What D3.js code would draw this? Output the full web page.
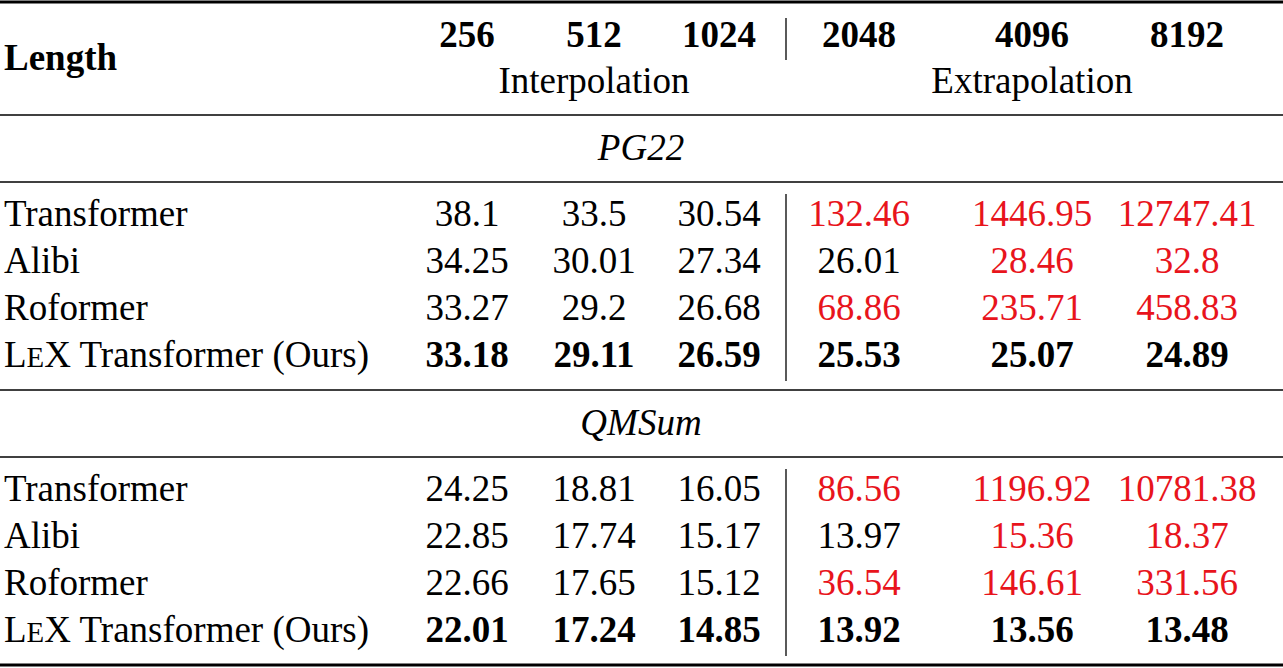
<!DOCTYPE html>
<html><head><meta charset="utf-8">
<script src="https://cdn.jsdelivr.net/npm/d3@7"></script>
<style>body{margin:0;background:#fff}svg{font-family:"Liberation Serif","Times New Roman",serif}</style>
</head><body><svg id="t" width="1283" height="668"></svg>
<script>
const lengths = ["256", "512", "1024", "2048", "4096", "8192"];
const models = ["Transformer", "Alibi", "Roformer", "LEX Transformer (Ours)"];
const pg22 = [
  ["38.1", "33.5", "30.54", "132.46", "1446.95", "12747.41"],
  ["34.25", "30.01", "27.34", "26.01", "28.46", "32.8"],
  ["33.27", "29.2", "26.68", "68.86", "235.71", "458.83"],
  ["33.18", "29.11", "26.59", "25.53", "25.07", "24.89"]
];
const qmsum = [
  ["24.25", "18.81", "16.05", "86.56", "1196.92", "10781.38"],
  ["22.85", "17.74", "15.17", "13.97", "15.36", "18.37"],
  ["22.66", "17.65", "15.12", "36.54", "146.61", "331.56"],
  ["22.01", "17.24", "14.85", "13.92", "13.56", "13.48"]
];
const sections = [{name: "PG22", rows: pg22}, {name: "QMSum", rows: qmsum}];

const svg = d3.select("#t");
const FS = 37, RED = "#e8141c";
const x = d3.scaleOrdinal().domain(lengths).range([467, 594, 719, 859, 1032, 1187]);
const SPLIT = 786;

function rule(y, w) {
  svg.append("line").attr("x1", 0).attr("x2", 1283).attr("y1", y).attr("y2", y)
    .attr("stroke", "#000").attr("stroke-width", w);
}
function vline(y1, y2) {
  svg.append("line").attr("x1", SPLIT).attr("x2", SPLIT).attr("y1", y1).attr("y2", y2)
    .attr("stroke", "#000").attr("stroke-width", 1.3);
}
function label(g, name, y) {
  const t = g.append("text").attr("x", 4).attr("y", y).attr("font-size", FS);
  if (name.startsWith("LEX")) {
    t.append("tspan").text("L");
    t.append("tspan").attr("font-size", FS * 0.78).text("E");
    t.append("tspan").text("X" + name.slice(3));
  } else t.text(name);
}

rule(2, 3);
svg.selectAll("text.h").data(lengths).join("text")
  .attr("x", d => x(d)).attr("y", 47).attr("text-anchor", "middle")
  .attr("font-size", FS).attr("font-weight", "bold").text(d => d);
svg.append("text").attr("x", 4).attr("y", 70).attr("font-size", FS).attr("font-weight", "bold").text("Length");
svg.append("text").attr("x", x("512")).attr("y", 93).attr("text-anchor", "middle").attr("font-size", FS).text("Interpolation");
svg.append("text").attr("x", x("4096")).attr("y", 93).attr("text-anchor", "middle").attr("font-size", FS).text("Extrapolation");
vline(18, 60);
rule(115, 1.5);

const ROW = 47;
sections.forEach((s, si) => {
  const top = si === 0 ? 115 : 390;
  svg.append("text").attr("x", 641).attr("y", top + 45).attr("text-anchor", "middle")
    .attr("font-size", FS).attr("font-style", "italic").text(s.name);
  rule(top + 67, 1.5);
  const y0 = top + 111;
  vline(top + 79, top + 266);
  s.rows.forEach((row, ri) => {
    const bold = ri === models.length - 1;
    const g = svg.append("g");
    const y = y0 + ri * ROW;
    label(g, models[ri], y);
    const base = +row[2];
    g.selectAll("text.v").data(row).join("text")
      .attr("x", (d, i) => x(lengths[i])).attr("y", y).attr("text-anchor", "middle")
      .attr("font-size", FS).attr("font-weight", bold ? "bold" : null)
      .attr("fill", (d, i) => i > 2 && !bold && +d > base ? RED : "#000")
      .text(d => d);
  });
  if (si === 0) rule(390, 1.5);
});
rule(665, 3);
</script></body></html>
